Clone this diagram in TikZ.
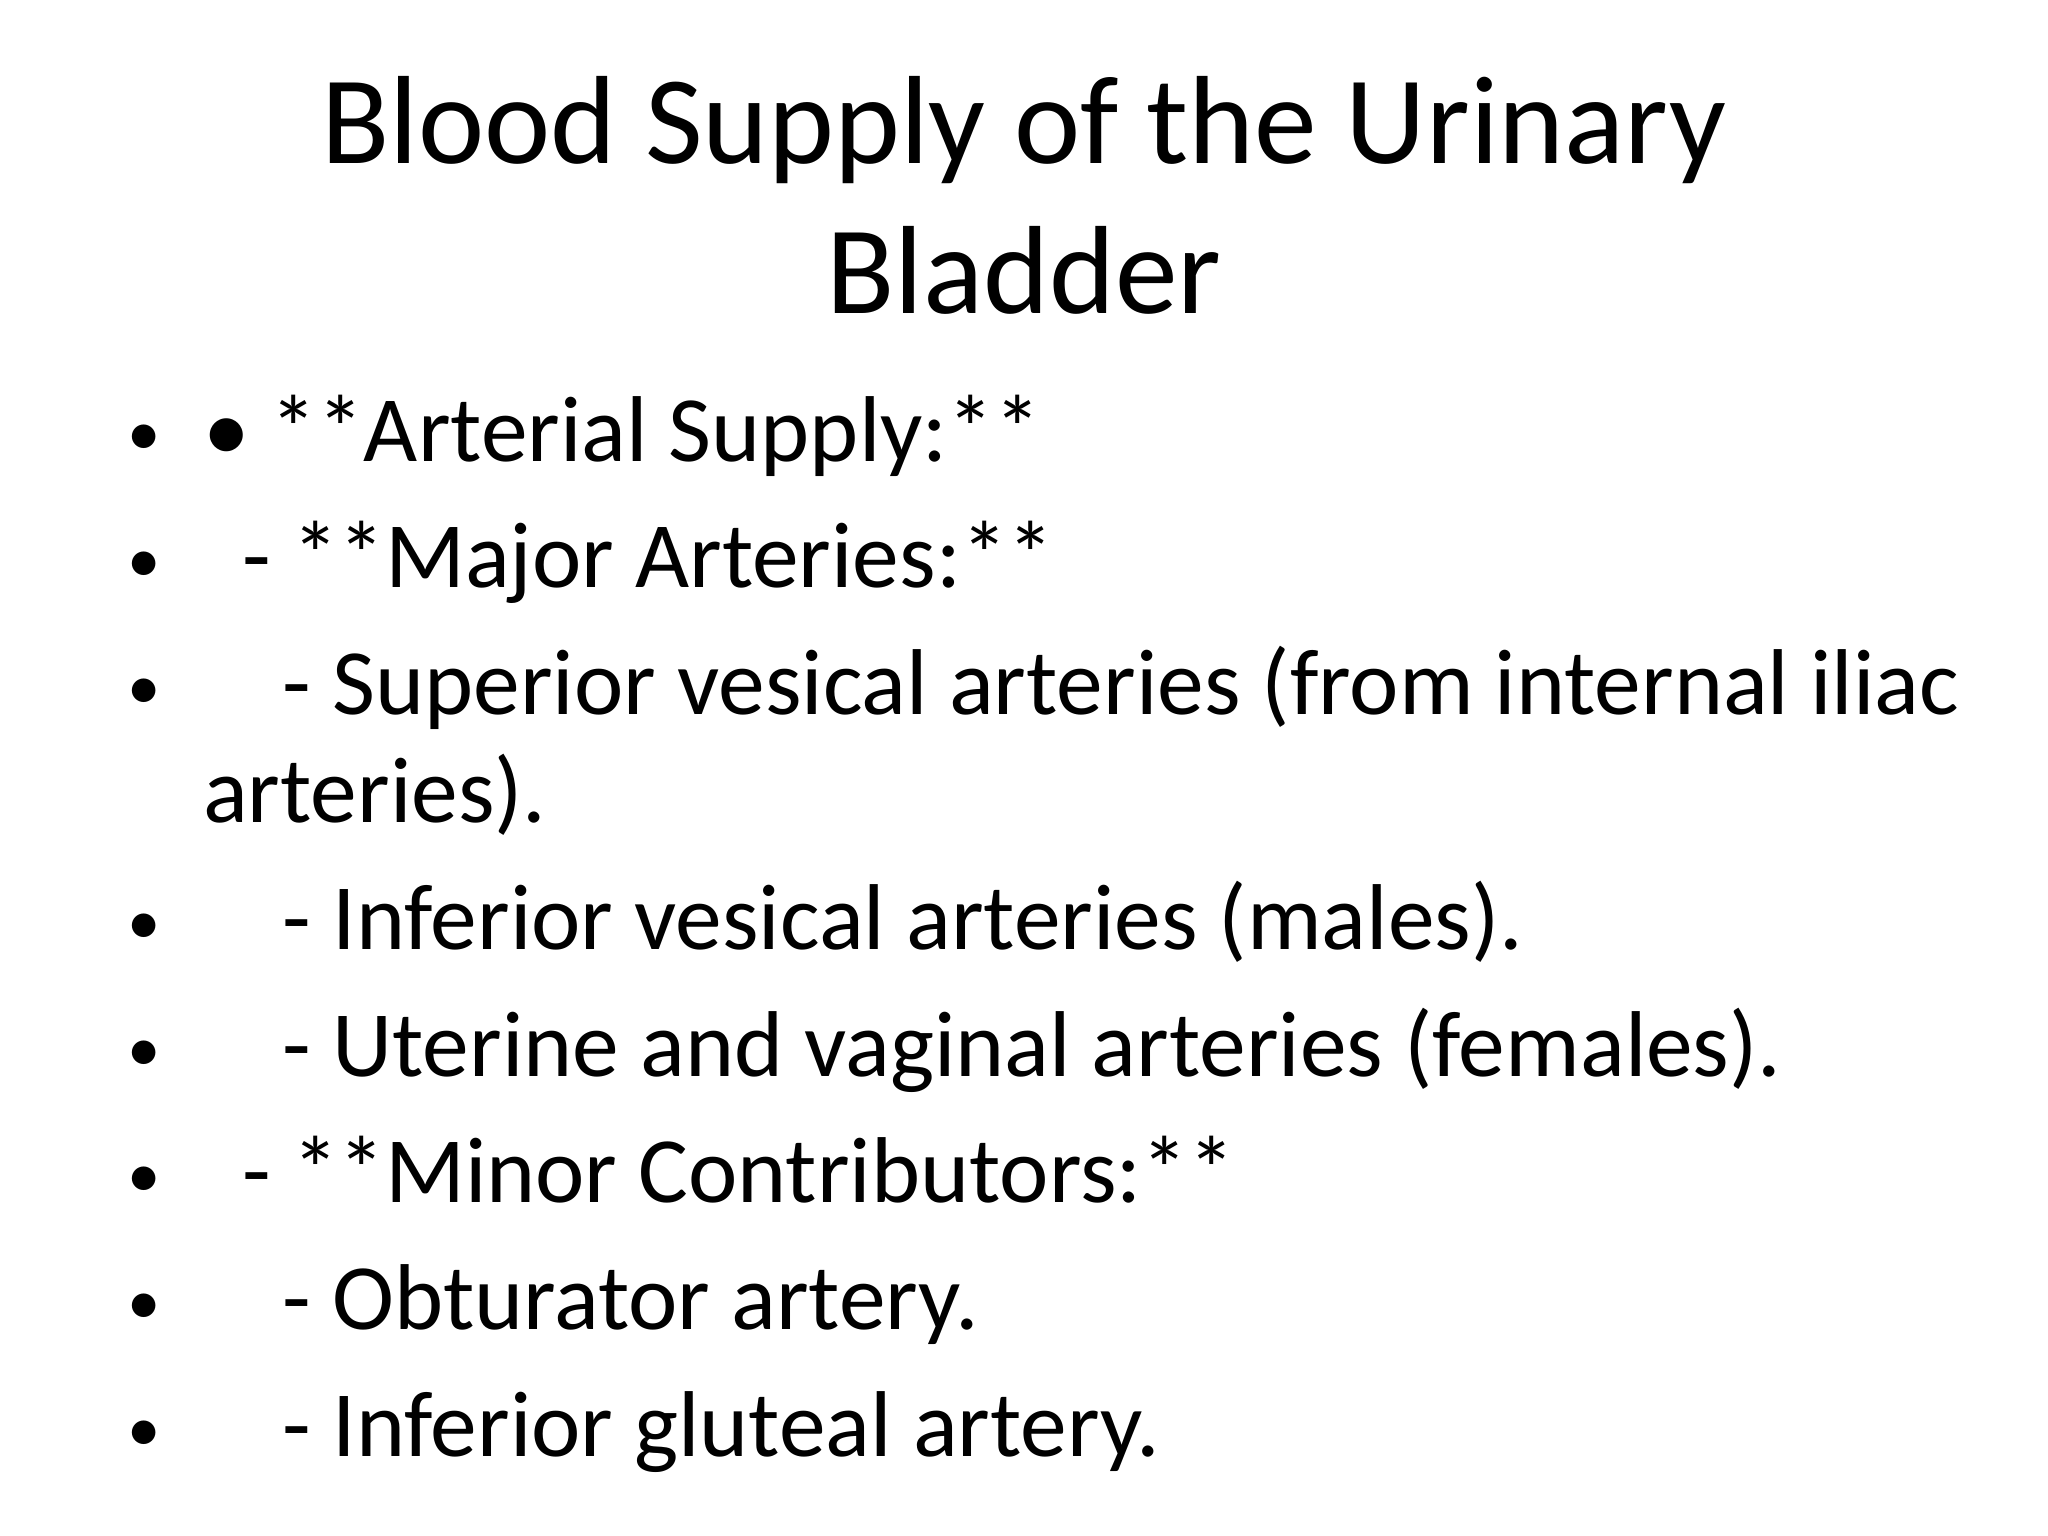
\documentclass[tikz,border=0pt]{standalone}
\usepackage{fontspec}
\setmainfont{Carlito}
\begin{document}
\begin{tikzpicture}[x=0.013061cm,y=-0.013061cm,
  ttl/.style={anchor=base,inner sep=0pt,font=\fontsize{35.7}{43}\selectfont},
  txt/.style={anchor=base west,inner sep=0pt,font=\fontsize{26.6}{32}\selectfont},
  bul/.style={anchor=base west,inner sep=0pt,font=\fontsize{19}{23}\selectfont}]
\useasboundingbox (0,0) rectangle (1568,1176);
\node[ttl] (t1) at (784,125) {Blood Supply of the Urinary};
\node[ttl] (t2) at (784,240) {Bladder};
\foreach \y/\n in {349/1,446/2,543/3,723/4,820/5,917/6,1014/7,1111/8}
  \node[bul] (b\n) at (97,\y) {•};
\node[txt] (l1) at (155,353) {• **Arterial Supply:**};
\node[txt] (l2) at (185,450) {- **Major Arteries:**};
\node[txt] (l3) at (216,547) {- Superior vesical arteries (from internal iliac};
\node[txt] (l3b) at (155,630) {arteries).};
\node[txt] (l4) at (216,727) {- Inferior vesical arteries (males).};
\node[txt] (l5) at (216,824) {- Uterine and vaginal arteries (females).};
\node[txt] (l6) at (185,921) {- **Minor Contributors:**};
\node[txt] (l7) at (216,1018) {- Obturator artery.};
\node[txt] (l8) at (216,1115) {- Inferior gluteal artery.};
\end{tikzpicture}
\end{document}
